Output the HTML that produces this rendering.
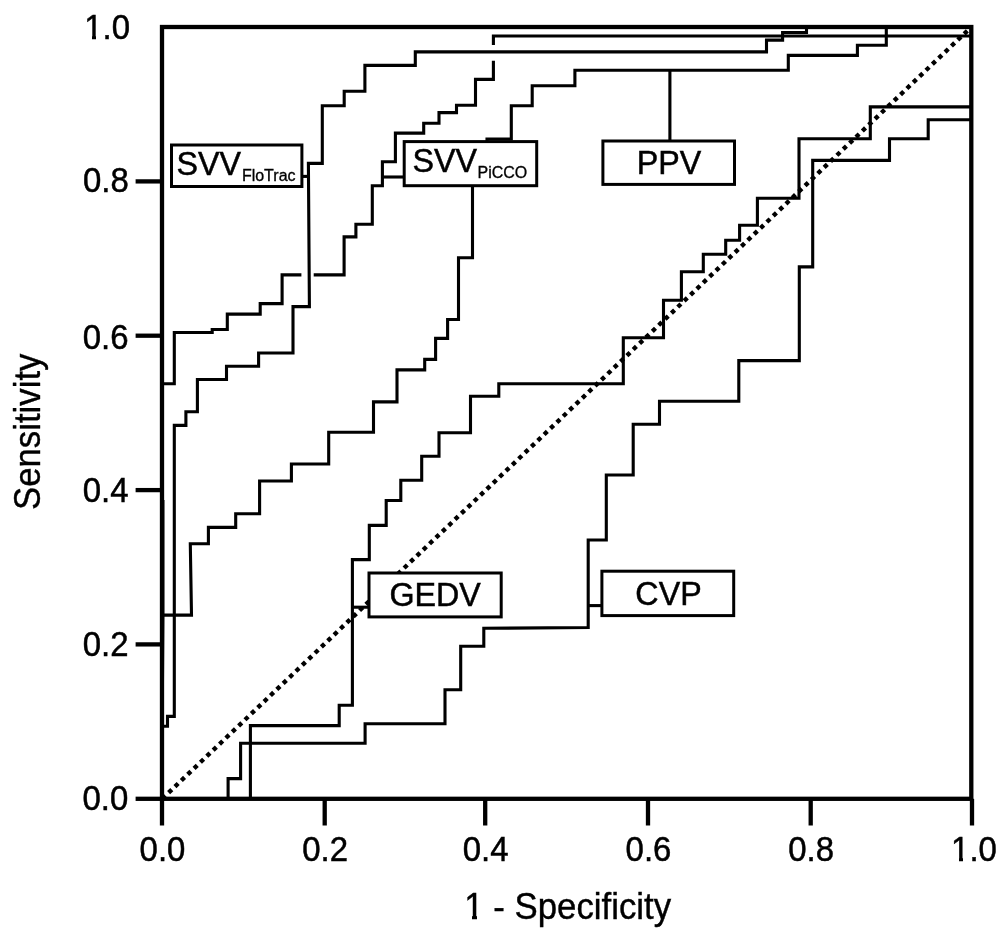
<!DOCTYPE html>
<html lang="en"><head><meta charset="utf-8"><title>ROC curves</title>
<style>
html,body{margin:0;padding:0;background:#fff;}
svg{display:block;}
text{font-family:"Liberation Sans",Arial,sans-serif;fill:#000;}
.c{fill:none;stroke:#000;stroke-width:3.1;stroke-linejoin:miter;stroke-linecap:butt;}
.ax{fill:none;stroke:#000;stroke-width:4.3;stroke-linecap:butt;}
.tk{fill:none;stroke:#000;stroke-width:4.3;}
.tl{font-size:36px;stroke:#000;stroke-width:0.5;}
.al{font-size:36px;stroke:#000;stroke-width:0.4;}
.lb{font-size:33px;stroke:#000;stroke-width:0.5;}
.sb{font-size:16px;stroke:#000;stroke-width:0.3;}
</style></head><body>
<svg width="1004" height="939" viewBox="0 0 1004 939">
<rect width="1004" height="939" fill="#fff"/>
<line x1="162.25" y1="798.69" x2="967.39" y2="30.78" stroke="#000" stroke-width="4.4" stroke-dasharray="4.4 4.395"/>
<polyline class="c" points="162.0,383.8 174.3,383.8 174.3,332.5 212.2,332.5 212.2,329.5 227.3,329.5 227.3,314.1 260.2,314.1 260.2,303.6 282.1,303.6 282.1,274.9 301.4,274.9"/>
<polyline class="c" points="313.7,274.9 344.1,274.9 344.1,236.9 355.9,236.9 355.9,224.3 372.3,224.3 372.3,185.7 382.4,185.7 382.4,161.8 395.4,161.8 395.4,133.1 423.7,133.1 423.7,123.2 439.0,123.2 439.0,112.6 456.5,112.6 456.5,105.2 475.5,105.2 475.5,79.4 493.4,79.4 493.4,60.8"/>
<polyline class="c" points="493.4,44.9 493.4,36.0 971.3,36.0"/>
<polyline class="c" points="162.0,615.1 191.5,615.1 190.3,543.7 208.4,543.7 208.4,527.4 235.7,527.4 235.7,513.8 259.6,513.8 259.6,481.0 291.4,481.0 291.4,464.0 328.7,464.0 328.7,432.2 373.5,432.2 373.5,401.9 397.0,401.9 397.0,369.9 424.7,369.9 424.7,359.4 435.6,359.4 435.6,338.4 447.6,338.4 447.6,319.5 458.5,319.5 458.5,257.8 472.5,257.8 472.5,160.0 487.0,160.0 487.0,139.0 511.3,139.0 511.3,105.7 532.2,105.7 532.2,85.7 574.9,85.7 574.9,70.3 788.3,70.3 788.3,55.4 857.4,55.4 857.4,45.2 886.3,45.2 886.3,27.0"/>
<polyline class="c" points="250.4,798.5 250.4,725.6 339.2,725.6 339.2,705.2 352.4,705.2 352.4,559.6 369.3,559.6 369.3,525.4 386.2,525.4 386.2,500.5 400.8,500.5 400.8,480.2 421.7,480.2 421.7,456.3 439.0,456.3 439.0,432.7 470.5,432.7 470.5,396.3 498.8,396.3 498.8,383.7 623.3,383.7 623.3,337.8 663.5,337.8 663.5,300.2 681.4,300.2 681.4,271.7 703.3,271.7 703.3,254.2 725.7,254.2 725.7,240.2 739.6,240.2 739.6,225.3 757.4,225.3 757.4,198.3 799.0,198.3 799.0,138.8 870.3,138.8 870.3,106.9 971.3,106.9"/>
<polyline class="c" points="228.1,798.5 228.1,778.6 240.6,778.6 240.6,743.2 365.1,743.2 365.1,723.8 445.0,723.8 445.0,689.7 460.7,689.7 460.7,646.2 483.8,646.2 483.8,628.3 588.2,627.5 588.2,540.0 606.3,540.0 606.3,475.0 633.2,475.0 633.2,424.2 659.5,424.2 659.5,401.3 738.8,401.3 738.8,360.6 799.3,360.6 799.3,266.9 812.7,266.9 812.7,160.4 889.5,160.4 889.5,138.8 928.2,138.8 928.2,119.8 971.3,119.8"/>
<polyline class="c" points="162.0,726.2 167.5,726.2 167.5,716.4 174.3,716.4 174.3,425.4 185.9,425.4 185.9,411.8 197.4,411.8 197.4,379.5 226.5,379.5 226.5,366.3 258.6,366.3 258.6,353.0 293.0,353.0 293.0,306.6 309.4,306.6 308.4,163.4 322.3,163.4 322.3,105.7 344.2,105.7 344.2,91.3 364.9,91.3 364.9,65.4 415.3,65.4 415.3,51.9 766.5,51.9 766.5,40.1 782.6,40.1 782.6,32.5 806.5,32.5 806.5,27.0"/>
<polyline class="c" points="162.9,500.0 162.9,615.0 162.2,720.0"/>
<polyline class="c" points="303.0,176.4 309.0,176.4"/>
<polyline class="c" points="382.4,177.0 404.0,177.0"/>
<polyline class="c" points="669.9,70.3 669.9,141.0"/>
<polyline class="c" points="352.4,607.2 369.0,607.2"/>
<polyline class="c" points="588.2,605.6 602.0,605.6"/>
<rect class="ax" x="162.0" y="27.0" width="809.3" height="771.8"/>
<line class="tk" x1="135.6" y1="798.8" x2="162.0" y2="798.8"/>
<line class="tk" x1="135.6" y1="644.4" x2="162.0" y2="644.4"/>
<line class="tk" x1="135.6" y1="490.1" x2="162.0" y2="490.1"/>
<line class="tk" x1="135.6" y1="335.7" x2="162.0" y2="335.7"/>
<line class="tk" x1="135.6" y1="181.4" x2="162.0" y2="181.4"/>
<line class="tk" x1="162.0" y1="798.8" x2="162.0" y2="825.5"/>
<line class="tk" x1="324.7" y1="798.8" x2="324.7" y2="825.5"/>
<line class="tk" x1="485.2" y1="798.8" x2="485.2" y2="825.5"/>
<line class="tk" x1="648.0" y1="798.8" x2="648.0" y2="825.5"/>
<line class="tk" x1="810.7" y1="798.8" x2="810.7" y2="825.5"/>
<line class="tk" x1="972.0" y1="798.8" x2="972.0" y2="825.5"/>
<text class="tl" transform="translate(128.3 810.05) scale(0.915 1)" text-anchor="end">0.0</text>
<text class="tl" transform="translate(128.6 655.75) scale(0.915 1)" text-anchor="end">0.2</text>
<text class="tl" transform="translate(128.5 502.25) scale(0.915 1)" text-anchor="end">0.4</text>
<text class="tl" transform="translate(128.5 348.75) scale(0.915 1)" text-anchor="end">0.6</text>
<text class="tl" transform="translate(128.8 192.05) scale(0.915 1)" text-anchor="end">0.8</text>
<text class="tl" transform="translate(130.0 38.7) scale(0.915 1)" text-anchor="end">1.0</text>
<text class="tl" transform="translate(162.5 860.8) scale(0.915 1)" text-anchor="middle">0.0</text>
<text class="tl" transform="translate(325.2 860.8) scale(0.915 1)" text-anchor="middle">0.2</text>
<text class="tl" transform="translate(485.7 860.8) scale(0.915 1)" text-anchor="middle">0.4</text>
<text class="tl" transform="translate(648.5 860.8) scale(0.915 1)" text-anchor="middle">0.6</text>
<text class="tl" transform="translate(811.2 860.8) scale(0.915 1)" text-anchor="middle">0.8</text>
<text class="tl" transform="translate(974.0 860.8) scale(0.915 1)" text-anchor="middle">1.0</text>
<rect x="171.5" y="145.0" width="130.4" height="41.5" fill="#fff" stroke="#000" stroke-width="3.0"/>
<text class="lb" transform="translate(176.6 174.9) scale(0.977 1)">SVV</text><text class="sb" x="241.9" y="180.9">FloTrac</text>
<rect x="404.2" y="141.6" width="132.5" height="44.1" fill="#fff" stroke="#000" stroke-width="3.0"/>
<text class="lb" transform="translate(412.4 171.9) scale(0.977 1)">SVV</text><text class="sb" x="477.5" y="178.3">PiCCO</text>
<rect x="602.9" y="141.0" width="131.6" height="43.4" fill="#fff" stroke="#000" stroke-width="3.0"/>
<text class="lb" transform="translate(669.1 174.2) scale(0.977 1)" text-anchor="middle">PPV</text>
<rect x="369.0" y="573.0" width="132.2" height="43.9" fill="#fff" stroke="#000" stroke-width="3.0"/>
<text class="lb" transform="translate(435.1 606.1) scale(0.977 1)" text-anchor="middle">GEDV</text>
<rect x="601.9" y="571.2" width="131.8" height="44.4" fill="#fff" stroke="#000" stroke-width="3.0"/>
<text class="lb" transform="translate(668.5 605.3) scale(0.977 1)" text-anchor="middle">CVP</text>
<text class="al" transform="translate(567.7 919.2) scale(0.966 1)" text-anchor="middle">1 - Specificity</text>
<text class="al" transform="translate(40.3 431.8) rotate(-90) scale(0.966 1)" text-anchor="middle">Sensitivity</text>
<rect x="84" y="35.4" width="8.0" height="5.0" fill="#fff"/><rect x="96" y="35.4" width="7.0" height="5.0" fill="#fff"/>
<rect x="951" y="857.4" width="8.0" height="5.0" fill="#fff"/><rect x="963" y="857.4" width="7.0" height="5.0" fill="#fff"/>
<rect x="464" y="915.4" width="8.0" height="5.0" fill="#fff"/><rect x="477" y="915.4" width="7.0" height="5.0" fill="#fff"/>
</svg></body></html>
